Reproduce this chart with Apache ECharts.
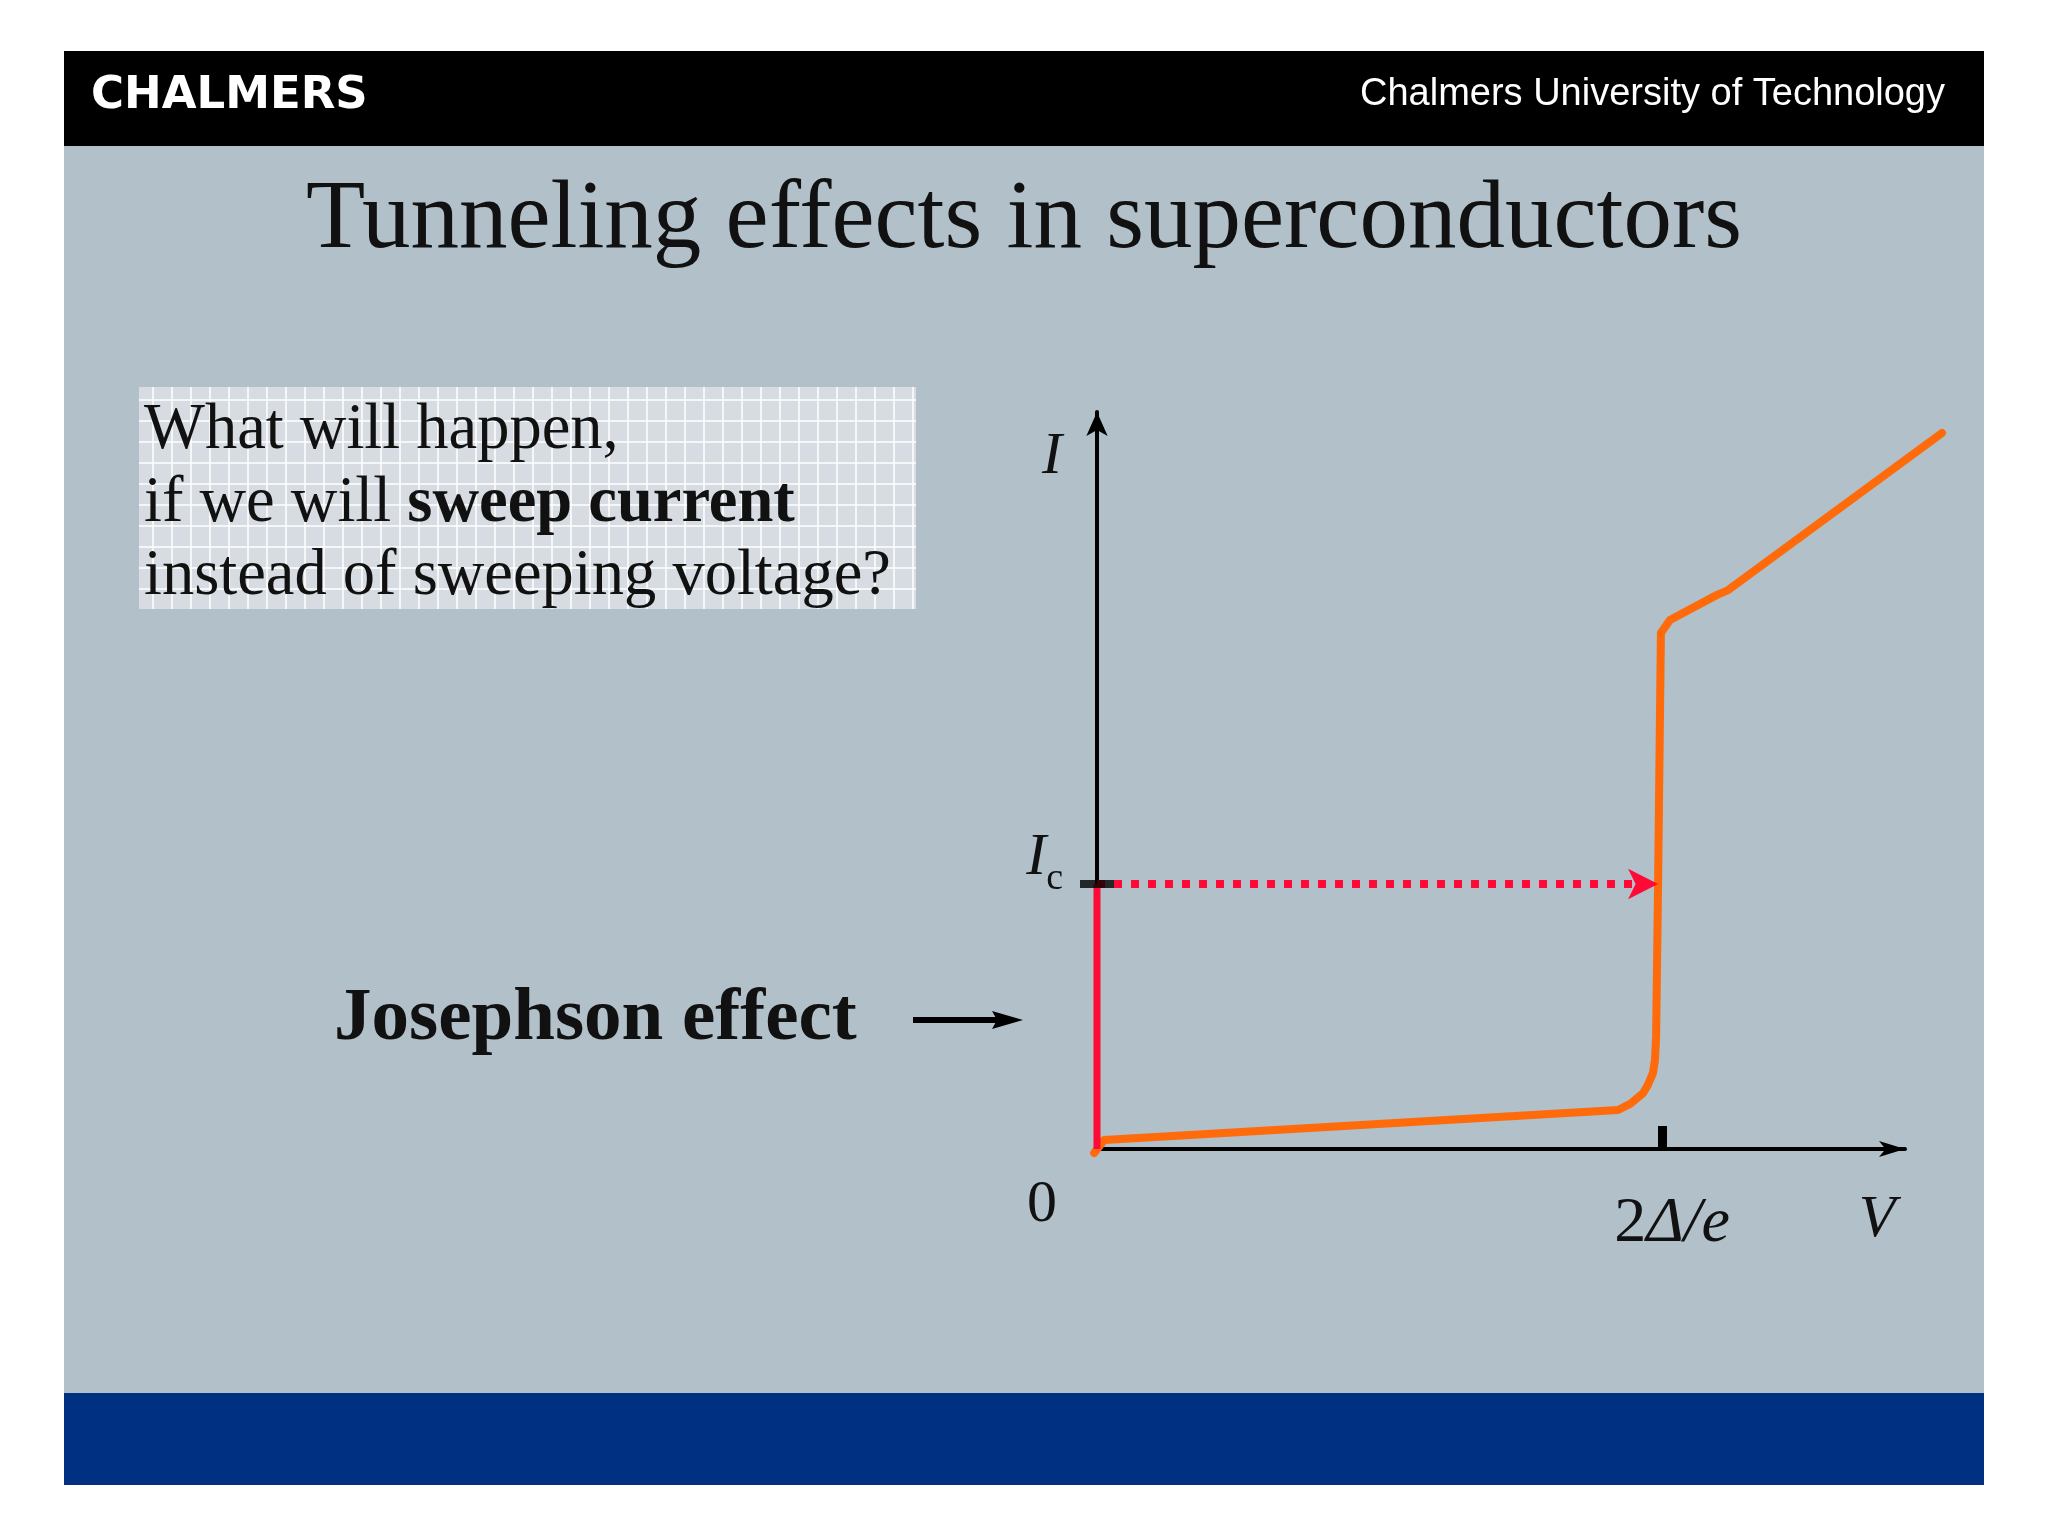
<!DOCTYPE html>
<html>
<head>
<meta charset="utf-8">
<script src="https://cdn.jsdelivr.net/npm/echarts@6/dist/echarts.min.js"></script>
<style>html,body{margin:0;padding:0;background:#fff;}#c{width:2048px;height:1536px;}</style>
</head>
<body>
<div id="c"></div>
<script>
// ---- data (V in units of Δ/e, I in units of Ic) ----
const ivV = [-0.01, 0.025, 1.844, 1.887, 1.933, 1.950, 1.968, 1.975, 1.979, 1.986, 1.996, 2.028, 2.195, 2.234, 2.991];
const ivI = [-0.015, 0.034, 0.147, 0.170, 0.211, 0.242, 0.287, 0.336, 0.423, 1.0, 1.947, 1.996, 2.091, 2.109, 2.702];
const josephsonV = [0, 0];
const josephsonI = [0, 1];
const jumpV = [0, 1.986];
const jumpI = [1, 1];
const xTickValues = [2];
const xLabelValues = [0, 2];
const xLabelTexts = ['{z|0}', '{n|2}{it|Δ/e}'];
const yLabelValues = [1];
const yLabelTexts = ['{I|I}{c|c}'];
const titleText = 'Tunneling effects in superconductors';
const questionLines = ['What will happen,', '{r|if we will }{b|sweep current}', 'instead of sweeping voltage?'];

const SERIF = '"Liberation Serif","Times New Roman",serif';
const INK = '#111';

function zip(a, b) { return a.map((v, i) => [v, b[i]]); }

// grid pattern for the question box
const pc = document.createElement('canvas');
pc.width = 19; pc.height = 21;
const pctx = pc.getContext('2d');
pctx.fillStyle = '#d6dce1'; pctx.fillRect(0, 0, 19, 21);
pctx.fillStyle = 'rgba(255,255,255,0.75)';
pctx.fillRect(0, 0, 2, 21); pctx.fillRect(0, 0, 19, 2);

const chart = echarts.init(document.getElementById('c'), null, {renderer: 'canvas', width: 2048, height: 1536});

const option = {
  animation: false,
  backgroundColor: '#ffffff',
  grid: {left: 1097, right: 143, top: 412, bottom: 387, outerBoundsMode: 'none', containLabel: false},
  xAxis: {
    type: 'value', min: 0, max: 2.86,
    splitLine: {show: false},
    axisLine: {show: true, onZero: false, symbol: ['none', 'arrow'], symbolSize: [12, 26], lineStyle: {color: '#000', width: 4}},
    axisTick: {show: true, customValues: xTickValues, inside: true, length: 23, lineStyle: {color: '#000', width: 9}},
    axisLabel: {
      show: true, customValues: xLabelValues, margin: 26, color: INK,
      fontFamily: SERIF, fontSize: 60, lineHeight: 60,
      formatter: function (v) { const i = xLabelValues.indexOf(v); return i >= 0 ? xLabelTexts[i] : ''; },
      rich: {
        z: {fontFamily: SERIF, fontSize: 60, lineHeight: 60, color: INK, padding: [0, 110, 0, 0]},
        n: {fontFamily: SERIF, fontSize: 64, lineHeight: 64, color: INK, padding: [34, 0, 0, 20]},
        it: {fontFamily: SERIF, fontSize: 64, lineHeight: 64, fontStyle: 'italic', color: INK, padding: [34, 0, 0, 0]}
      }
    },
    name: 'V', nameLocation: 'end', nameGap: -28, nameMoveOverlap: false,
    nameTextStyle: {fontFamily: SERIF, fontStyle: 'italic', fontSize: 60, lineHeight: 60, color: INK, align: 'center', verticalAlign: 'top', padding: [41, 0, 0, 0]}
  },
  yAxis: {
    type: 'value', min: 0, max: 2.781,
    splitLine: {show: false},
    axisLine: {show: true, onZero: false, symbol: ['none', 'arrow'], symbolSize: [16, 24], lineStyle: {color: '#000', width: 4}},
    axisTick: {show: false},
    axisLabel: {
      show: true, customValues: yLabelValues, margin: 34, color: INK,
      formatter: function (v) { const i = yLabelValues.indexOf(v); return i >= 0 ? yLabelTexts[i] : ''; },
      rich: {
        I: {fontFamily: SERIF, fontSize: 60, lineHeight: 60, fontStyle: 'italic', color: INK, padding: [0, 0, 52, 0]},
        c: {fontFamily: SERIF, fontSize: 38, lineHeight: 38, color: INK, padding: [0, 0, 10, 0]}
      }
    },
    name: 'I', nameLocation: 'end', nameGap: -45, nameMoveOverlap: false,
    nameTextStyle: {fontFamily: SERIF, fontStyle: 'italic', fontSize: 60, lineHeight: 60, color: INK, align: 'right', verticalAlign: 'middle', padding: [0, 35, 0, 0]}
  },
  series: [
    {
      name: 'I-V characteristic', type: 'lines', coordinateSystem: 'cartesian2d', polyline: true, clip: false, silent: true, z: 3,
      data: [{coords: zip(ivV, ivI)}],
      lineStyle: {color: '#ff6a0a', width: 8, opacity: 1, join: 'round', cap: 'round'}
    },
    {
      name: 'Josephson current', type: 'line', data: zip(josephsonV, josephsonI), clip: false, symbol: 'none', z: 4,
      lineStyle: {color: '#ff0a36', width: 7},
      markLine: {
        silent: true, symbol: ['none', 'arrow'], symbolSize: [23, 30],
        label: {show: false},
        lineStyle: {color: '#ff0a36', width: 8, type: [8, 9]},
        data: [[{coord: [jumpV[0], jumpI[0]]}, {coord: [jumpV[1], jumpI[1]]}]]
      }
    },
    {
      name: 'Ic tick', type: 'scatter', data: [[josephsonV[1], josephsonI[1]]], symbol: 'rect', symbolSize: [34, 8], z: 6,
      itemStyle: {color: '#000'}, silent: true
    }
  ],
  graphic: [
    {type: 'rect', z: -100, silent: true, shape: {x: 64, y: 145, width: 1920, height: 1248}, style: {fill: '#b1c0c9'}},
    {type: 'rect', z: -100, silent: true, shape: {x: 64, y: 51, width: 1920, height: 95}, style: {fill: '#000'}},
    {type: 'rect', z: -100, silent: true, shape: {x: 64, y: 1393, width: 1920, height: 92}, style: {fill: '#003082'}},
    {type: 'text', z: 100, silent: true, style: {text: 'CHALMERS', x: 91, y: 96, fill: '#fff', font: 'bold 45px "DejaVu Sans"', align: 'left', verticalAlign: 'middle'}},
    {type: 'text', z: 100, silent: true, style: {text: 'Chalmers University of Technology', x: 1945, y: 95, fill: '#fff', font: '38px "Liberation Sans"', align: 'right', verticalAlign: 'middle'}},
    {type: 'text', z: 100, silent: true, style: {text: titleText, x: 1024, y: 222, fill: INK, font: '97px ' + SERIF, align: 'center', verticalAlign: 'middle'}},
    {type: 'rect', z: -50, silent: true, shape: {x: 139, y: 387, width: 777, height: 222}, style: {fill: {image: pc, repeat: 'repeat'}}},
    {type: 'text', z: 100, silent: true, style: {text: questionLines[0], x: 144, y: 431, fill: INK, font: '64.5px ' + SERIF, align: 'left', verticalAlign: 'middle'}},
    {type: 'text', z: 100, silent: true, style: {text: questionLines[1], x: 144, y: 504, fill: INK, align: 'left', verticalAlign: 'middle',
      rich: {r: {fontFamily: SERIF, fontSize: 64.5, fill: INK}, b: {fontFamily: SERIF, fontSize: 64.5, fontWeight: 'bold', fill: INK}}}},
    {type: 'text', z: 100, silent: true, style: {text: questionLines[2], x: 144, y: 577, fill: INK, font: '64.5px ' + SERIF, align: 'left', verticalAlign: 'middle'}},
    {type: 'text', z: 100, silent: true, style: {text: 'Josephson effect', x: 334, y: 1020, fill: INK, font: 'bold 75px ' + SERIF, align: 'left', verticalAlign: 'middle'}},
    {type: 'line', z: 100, silent: true, shape: {x1: 913, y1: 1020, x2: 998, y2: 1020}, style: {stroke: '#000', lineWidth: 6}},
    {type: 'polygon', z: 100, silent: true, shape: {points: [[992, 1011], [1023, 1020], [992, 1029], [997, 1020]]}, style: {fill: '#000'}}
  ]
};
chart.setOption(option);
</script>
</body>
</html>
